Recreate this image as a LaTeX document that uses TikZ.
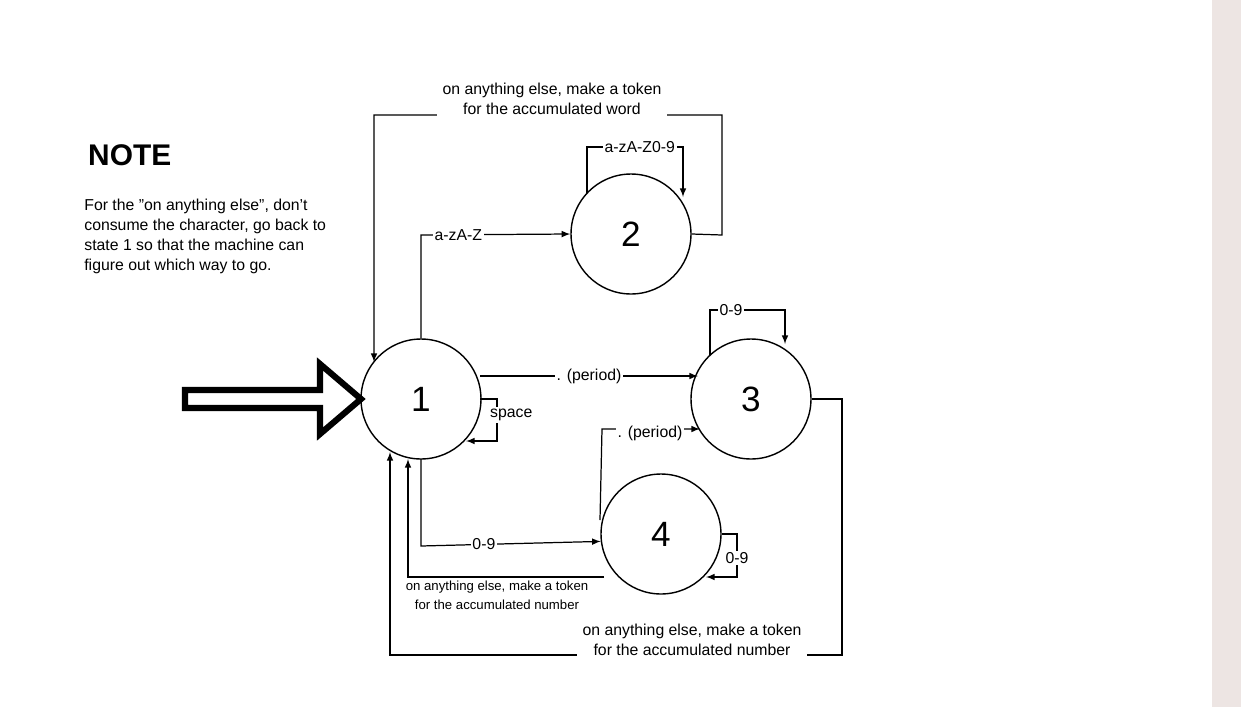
\documentclass[tikz,border=0pt]{standalone}
\usepackage{fontspec}
\setmainfont{Liberation Sans}
\begin{document}
\begin{tikzpicture}[x=0.02cm,y=-0.02cm,
  st/.style={circle,draw,line width=0.8pt,minimum size=2.4cm,inner sep=0pt,font=\fontsize{20}{20}\selectfont},
  ar/.style={draw,line width=0.7pt,-latex},
  ln/.style={draw,line width=0.7pt},
  lb/.style={fill=white,inner sep=1pt,font=\fontsize{9}{11}\selectfont},
  sm/.style={fill=white,inner sep=1pt,font=\fontsize{7.5}{11}\selectfont,align=center}]
\useasboundingbox (0,0) rectangle (1241,707);
\fill[white] (0,0) rectangle (1241,707);
\fill[color={rgb,255:red,237;green,229;blue,227}] (1212,0) rectangle (1241,707);
\node[st] (s1) at (421,399) {1};
\node[st] (s2) at (631,234) {2};
\node[st] (s3) at (751,399) {3};
\node[st] (s4) at (661,534) {4};
\node[anchor=west,font=\fontsize{17}{17}\selectfont\bfseries] (note) at (82,155) {NOTE};
\node[anchor=north west,align=left,inner sep=0pt,font=\fontsize{9}{11.4}\selectfont] (para) at (84,199) {For the "on anything else", don't\\consume the character, go back to\\state 1 so that the machine can\\figure out which way to go.};
% entry arrow
\draw[line width=3.5pt,fill=white] (185,390) -- (320,390) -- (320,364) -- (361,399) -- (320,434) -- (320,408) -- (185,408) -- cycle;
% 1 -> 2
\coordinate (a1) at (421,235);
\draw[ar] (s1.90) -- (a1) -- (s2.180) node[lb,pos=0.25] {a-zA-Z};
% 2 loop
\coordinate (b1) at (587,147); \coordinate (b2) at (683,147);
\draw[ar] (587,193) -- (b1) -- (b2) node[lb,pos=0.55] {a-zA-Z0-9} -- (683,197);
% 2 -> 1
\coordinate (c1) at (722,235); \coordinate (c2) at (722,115); \coordinate (c3) at (374,115);
\draw[ar] (s2.0) -- (c1) -- (c2) -- (c3) -- (374,362);
\node[lb,align=center,inner sep=3pt] (l21) at (552,99) {on anything else, make a token\\for the accumulated word};
% 1 -> 3
\draw[ar] (480,376) -- (698,376) node[lb,pos=0.5] {. (period)};
% 1 loop
\draw[ar] (480,399) -- (497,399) -- (497,441) -- (466,441);
\node[lb,anchor=west] (lsp) at (488,415) {space};
% 1 -> 4
\coordinate (d1) at (421,546);
\draw[ar] (421,459) -- (d1) -- (s4.187) node[lb,pos=0.35] {0-9};
% 4 -> 3
\draw[ar] (600,520) -- (602,429) -- (700,429);
\node[lb] (lp2) at (650,433) {. (period)};
% 4 loop
\draw[ar] (722,534) -- (737,534) -- (737,577) -- (706,577);
\node[lb] (l44) at (737,558) {0-9};
% 4 -> 1
\draw[ar] (604,577) -- (408,577) -- (408,459);
\node[sm] (l41) at (497,595) {on anything else, make a token\\for the accumulated number};
% 3 loop
\draw[ar] (710,355) -- (710,310) -- (785,310) -- (785,344);
\node[lb] (l33) at (731,310) {0-9};
% 3 -> 1
\draw[ar] (s3.0) -- (842,399) -- (842,655) -- (390,655) -- (390,452);
\node[lb,align=center,inner sep=3pt] (l31) at (692,640) {on anything else, make a token\\for the accumulated number};
\end{tikzpicture}
\end{document}
